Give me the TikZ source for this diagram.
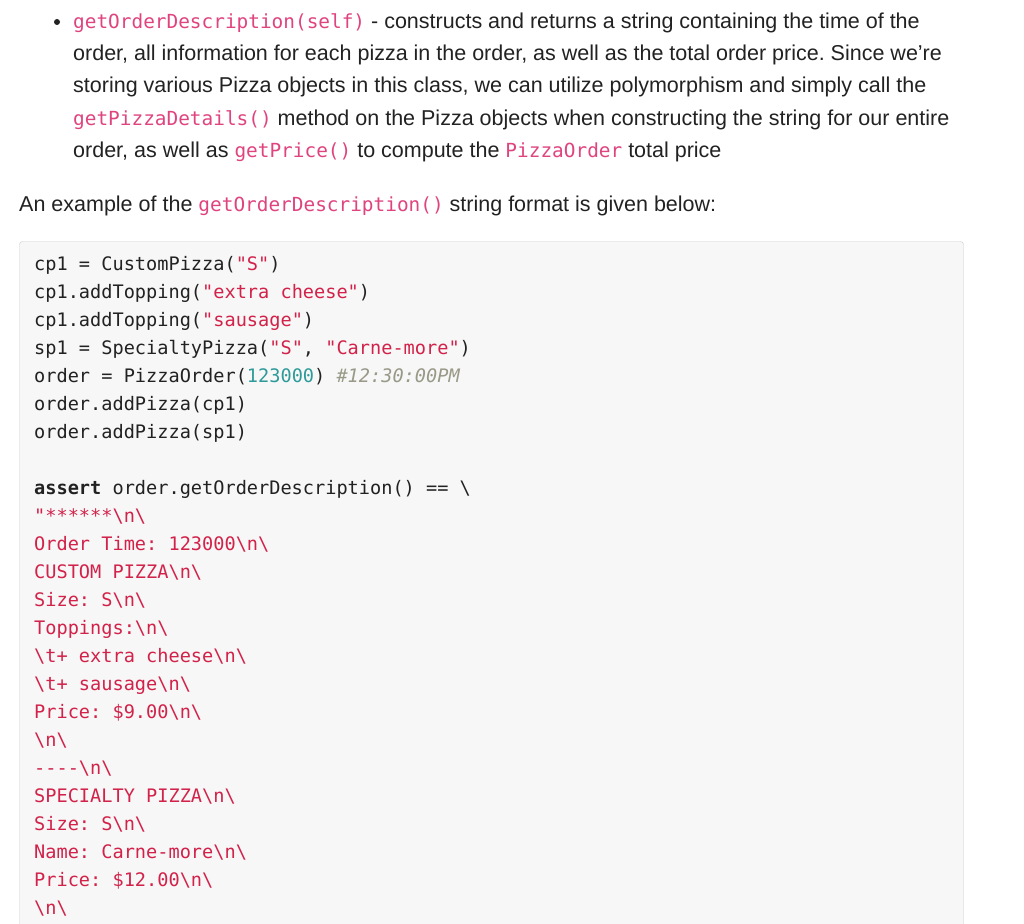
\documentclass[tikz,border=0pt]{standalone}
\usepackage{fontspec}
\setmainfont{Liberation Sans}
\newfontfamily\cd{DejaVu Sans Mono}
\frenchspacing
\definecolor{pink}{HTML}{E0447F}
\definecolor{str}{HTML}{D2224A}
\definecolor{num}{HTML}{2E9A9A}
\definecolor{cmt}{HTML}{999988}
\definecolor{txt}{HTML}{222222}
\definecolor{boxbg}{HTML}{F7F7F7}
\definecolor{boxln}{HTML}{CCCCCC}
\newcommand{\ic}[1]{{\cd\fontsize{19.4}{20}\selectfont\color{pink}#1}}
\newcommand{\bs}{\symbol{92}}
\newcommand{\strc}[1]{{\color{str}#1}}
\tikzset{
 body/.style={anchor=base west,inner sep=0,text=txt,font=\fontsize{21.5}{22}\selectfont\frenchspacing},
 code/.style={anchor=base west,inner sep=0,text=txt,font=\cd\fontsize{18.6}{20}\selectfont\frenchspacing},
}
\begin{document}
\begin{tikzpicture}[x=1pt,y=-1pt]
\useasboundingbox[fill=white] (0,0) rectangle (1024,923);
\fill[txt] (57,22) circle (3);
\node[body] (l1) at (73,29) {\ic{getOrderDescription(self)} - constructs and returns a string containing the time of the};
\node[body] (l2) at (73,61) {order, all information for each pizza in the order, as well as the total order price. Since we’re};
\node[body] (l3) at (73,93) {storing various Pizza objects in this class, we can utilize polymorphism and simply call the};
\node[body] (l4) at (73,125) {\ic{getPizzaDetails()} method on the Pizza objects when constructing the string for our entire};
\node[body] (l5) at (73,157) {order, as well as \ic{getPrice()} to compute the \ic{PizzaOrder} total price};
\node[body] (ex) at (19,211) {An example of the \ic{getOrderDescription()} string format is given below:};
\draw[boxln,fill=boxbg,rounded corners=3] (19.5,241.5) rectangle (963.5,940);
\node[code] (c1) at (34,270) {cp1 = CustomPizza(\strc{"S"})};
\node[code] (c2) at (34,298) {cp1.addTopping(\strc{"extra cheese"})};
\node[code] (c3) at (34,326) {cp1.addTopping(\strc{"sausage"})};
\node[code] (c4) at (34,354) {sp1 = SpecialtyPizza(\strc{"S"}, \strc{"Carne-more"})};
\node[code] (c5) at (34,382) {order = PizzaOrder({\color{num}123000}) {\color{cmt}\itshape \#12:30:00PM}};
\node[code] (c6) at (34,410) {order.addPizza(cp1)};
\node[code] (c7) at (34,438) {order.addPizza(sp1)};
\node[code] (c8) at (34,494) {{\bfseries assert} order.getOrderDescription() == \bs};
\node[code,text=str] (c9) at (34,522) {"******\bs n\bs};
\node[code,text=str] (c10) at (34,550) {Order Time: 123000\bs n\bs};
\node[code,text=str] (c11) at (34,578) {CUSTOM PIZZA\bs n\bs};
\node[code,text=str] (c12) at (34,606) {Size: S\bs n\bs};
\node[code,text=str] (c13) at (34,634) {Toppings:\bs n\bs};
\node[code,text=str] (c14) at (34,662) {\bs t+ extra cheese\bs n\bs};
\node[code,text=str] (c15) at (34,690) {\bs t+ sausage\bs n\bs};
\node[code,text=str] (c16) at (34,718) {Price: \$9.00\bs n\bs};
\node[code,text=str] (c17) at (34,746) {\bs n\bs};
\node[code,text=str] (c18) at (34,774) {----\bs n\bs};
\node[code,text=str] (c19) at (34,802) {SPECIALTY PIZZA\bs n\bs};
\node[code,text=str] (c20) at (34,830) {Size: S\bs n\bs};
\node[code,text=str] (c21) at (34,858) {Name: Carne-more\bs n\bs};
\node[code,text=str] (c22) at (34,886) {Price: \$12.00\bs n\bs};
\node[code,text=str] (c23) at (34,914) {\bs n\bs};
\end{tikzpicture}
\end{document}
